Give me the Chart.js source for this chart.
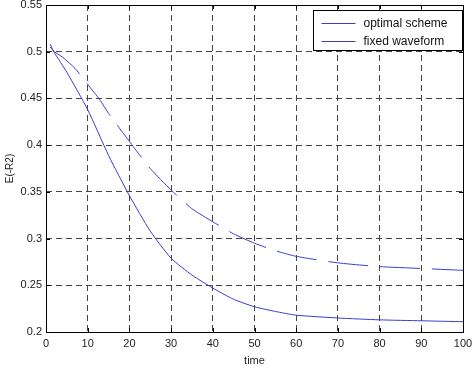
<!DOCTYPE html>
<html>
<head>
<meta charset="utf-8">
<script src="https://cdn.jsdelivr.net/npm/chart.js@4.4.1/dist/chart.umd.min.js"></script>
<style>
  html, body { margin: 0; padding: 0; background: #fff; }
  #wrap { width: 474px; height: 392px; }
</style>
</head>
<body>
<div id="wrap"><canvas id="chart" width="474" height="392"></canvas></div>
<script>
// data
const optimalTime = [1, 2, 5, 10, 15, 20, 25, 30, 35, 40, 45, 50, 55, 60, 70, 80, 90, 100];
const optimalValue = [0.508, 0.499, 0.478, 0.438, 0.389, 0.346, 0.308, 0.279, 0.261, 0.247, 0.235, 0.227, 0.222, 0.218, 0.215, 0.213, 0.212, 0.211];

const fixedTime = [1, 2, 4, 7, 10, 13, 15, 20, 25, 30, 35, 40, 45, 50, 55, 60, 70, 80, 90, 100];
const fixedValue = [0.505, 0.5, 0.494, 0.482, 0.465, 0.448, 0.434, 0.404, 0.375, 0.352, 0.332, 0.318, 0.305, 0.295, 0.287, 0.281, 0.274, 0.27, 0.268, 0.266];

const xTicks = [0, 10, 20, 30, 40, 50, 60, 70, 80, 90, 100];
const yTicks = [0.2, 0.25, 0.3, 0.35, 0.4, 0.45, 0.5, 0.55];

const lineBlue = '#3b3bd6';
const font = 'Liberation Sans, Arial, sans-serif';

function toPoints(xs, ys) {
  return xs.map((x, i) => ({ x: x, y: ys[i] }));
}

// frame, inner tick marks and the boxed legend, matlab style
const matlabFrame = {
  id: 'matlabFrame',
  afterDraw(chart) {
    const ctx = chart.ctx;
    const a = chart.chartArea;
    const xs = chart.scales.x, ys = chart.scales.y;
    ctx.save();
    ctx.strokeStyle = '#000';
    ctx.lineWidth = 1;
    ctx.setLineDash([]);
    ctx.strokeRect(Math.round(a.left) + 0.5, Math.round(a.top) + 0.5,
      Math.round(a.right - a.left), Math.round(a.bottom - a.top));

    ctx.beginPath();
    xTicks.forEach(t => {
      const px = Math.round(xs.getPixelForValue(t)) + 0.5;
      ctx.moveTo(px, a.bottom); ctx.lineTo(px, a.bottom - 4);
      ctx.moveTo(px, a.top); ctx.lineTo(px, a.top + 4);
    });
    yTicks.forEach(t => {
      const py = Math.round(ys.getPixelForValue(t)) + 0.5;
      ctx.moveTo(a.left, py); ctx.lineTo(a.left + 4, py);
      ctx.moveTo(a.right, py); ctx.lineTo(a.right - 4, py);
    });
    ctx.stroke();

    // legend box
    const bx = 313.5, by = 10.5, bw = 149, bh = 40;
    ctx.fillStyle = '#fff';
    ctx.fillRect(bx, by, bw, bh);
    ctx.strokeRect(bx, by, bw, bh);
    ctx.font = '12px ' + font;
    ctx.textBaseline = 'middle';
    chart.data.datasets.forEach((ds, i) => {
      const ly = Math.round(by + 12 + i * 18) + 0.5;
      ctx.strokeStyle = lineBlue;
      ctx.beginPath();
      ctx.moveTo(bx + 8, ly);
      ctx.lineTo(bx + 42, ly);
      ctx.stroke();
      ctx.fillStyle = '#111';
      ctx.fillText(ds.label, bx + 50, ly);
    });
    ctx.restore();
  }
};

// drop the label overhang chart.js reserves, so the plot box sits where the padding says
function noOverhang(s) {
  s.paddingTop = 0; s.paddingBottom = 0;
  s.paddingLeft = 0; s.paddingRight = 0;
}

new Chart(document.getElementById('chart'), {
  type: 'line',
  data: {
    datasets: [
      {
        label: 'optimal scheme',
        data: toPoints(optimalTime, optimalValue),
        borderColor: lineBlue,
        borderWidth: 1,
        pointRadius: 0,
        tension: 0.2
      },
      {
        label: 'fixed waveform',
        data: toPoints(fixedTime, fixedValue),
        borderColor: lineBlue,
        borderWidth: 1,
        borderDash: [40, 12],
        pointRadius: 0,
        tension: 0.2
      }
    ]
  },
  options: {
    responsive: false,
    animation: false,
    layout: { padding: { top: 5, right: 11, left: 0, bottom: 20 } },
    plugins: { legend: { display: false }, tooltip: { enabled: false } },
    scales: {
      x: {
        type: 'linear',
        min: 0, max: 100,
        afterBuildTicks: s => { s.ticks = xTicks.map(v => ({ value: v })); },
        afterFit: s => { s.height = 40; noOverhang(s); },
        grid: { color: '#444', lineWidth: 1, drawTicks: false },
        border: { display: false, dash: [6, 4] },
        ticks: { color: '#222', font: { family: font, size: 11 }, padding: 5, maxRotation: 0 },
        title: { display: true, text: 'time', color: '#222', font: { family: font, size: 11 }, padding: { top: 4 } }
      },
      y: {
        min: 0.2, max: 0.55,
        afterBuildTicks: s => { s.ticks = yTicks.map(v => ({ value: v })); },
        afterFit: s => { s.width = 46; noOverhang(s); },
        grid: { color: '#444', lineWidth: 1, drawTicks: false },
        border: { display: false, dash: [6, 4] },
        ticks: { color: '#222', font: { family: font, size: 11 }, padding: 4, callback: v => String(+v.toFixed(2)) },
        title: { display: true, text: 'E(-R2)', color: '#222', font: { family: font, size: 10 }, padding: { bottom: 0 } }
      }
    }
  },
  plugins: [matlabFrame]
});
</script>
</body>
</html>
